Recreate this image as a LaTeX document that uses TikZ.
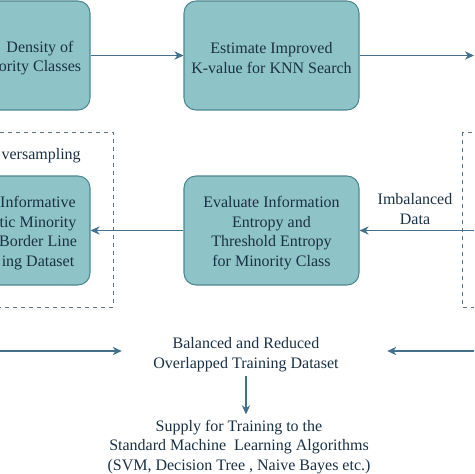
\documentclass[tikz,border=0pt]{standalone}
\usepackage{fontspec}
\setmainfont{Liberation Serif}
\usetikzlibrary{arrows.meta, positioning}
\definecolor{boxfill}{HTML}{8EC4C8}
\definecolor{boxline}{HTML}{4C8790}
\definecolor{arrowcolor}{HTML}{44708C}
\definecolor{textcolor}{HTML}{1A3044}
\definecolor{dashcolor}{HTML}{5A6F80}

\begin{document}
\begin{tikzpicture}[x=0.75pt, y=-0.75pt,
    font=\fontsize{12}{14.8}\selectfont, text=textcolor,
    block/.style={rectangle, rounded corners=9pt, draw=boxline, fill=boxfill, line width=0.8pt, minimum width=131.25pt, minimum height=81.75pt},
    txt/.style={align=center, inner sep=0pt},
    group/.style={draw=dashcolor, dashed, line width=0.7pt},
    arrow/.style={-{Stealth[length=2.4mm, width=2.2mm]}, line width=0.8pt, arrowcolor}
]
\useasboundingbox (0,0) rectangle (474,474);
\clip (0,0) rectangle (474,474);

% Top row
\node[block] (dens) at (2.5, 55.5) {};
\node[txt] (densT) at (40, 58) {Density of\\ority Classes};
\node[block] (knn) at (271.5, 55.5) {};
\node[txt] (knnT) at (271.5, 58) {Estimate Improved\\K-value for KNN Search};
\coordinate (kout) at (474, 55.5);

\draw[arrow] (dens) -- (knn);
\draw[arrow] (knn) -- (kout);

% Middle row
\draw[group] (-60, 132) rectangle (113, 307);
\draw[group] (462, 132) rectangle (540, 307);
\node[txt, anchor=east] (overT) at (81, 156) {versampling};

\node[block] (gen) at (2.5, 230.5) {};
\node[txt] (genT) at (38, 233) {Informative\\tic Minority\\Border Line\\ing Dataset};
\node[block] (eval) at (271.5, 230.5) {};
\node[txt] (evalT) at (271.5, 233) {Evaluate Information\\Entropy and\\Threshold Entropy\\for Minority Class};
\coordinate (imin) at (474, 230.5);
\node[txt] (imbT) at (415, 209) {Imbalanced\\Data};

\draw[arrow] (imin) -- (eval);
\draw[arrow] (eval) -- (gen);

% Bottom
\node[txt, minimum width=186pt, inner ysep=3pt] (bal) at (246, 355) {Balanced and Reduced\\Overlapped Training Dataset};
\node[txt, inner ysep=4pt] (sup) at (239, 447) {Supply for Training to the\\Standard Machine\ \ Learning Algorithms\\(SVM, Decision Tree , Naive Bayes etc.)};
\coordinate (bin) at (0, 351);
\coordinate (bout) at (474, 351);

\draw[arrow] (bin) -- (bin -| bal.west);
\draw[arrow, shorten >=12.75pt] (bout) -- (bout -| bal.east);
\draw[arrow] (bal.south) -- (bal.south |- sup.north);

\end{tikzpicture}
\end{document}
